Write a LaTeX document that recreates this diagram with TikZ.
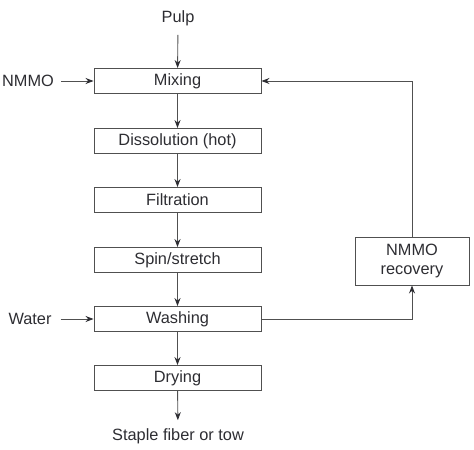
\documentclass[tikz,border=0pt]{standalone}
\usepackage{fontspec}
\setmainfont{Liberation Sans}
\usepackage{tikz}
\usetikzlibrary{arrows.meta}
\definecolor{FlowLineColor}{RGB}{80,80,80}
\definecolor{FlowTipColor}{RGB}{45,45,50}
\definecolor{FlowTextColor}{RGB}{45,45,50}

\begin{document}
\begin{tikzpicture}[x=1bp,y=-1bp,font=\fontsize{16.4}{19}\selectfont,text=FlowTextColor,
    stepbox/.style={draw=FlowLineColor,line width=0.9bp,minimum width=167bp,minimum height=25bp,inner sep=0pt},
    arr/.style={draw=FlowLineColor,line width=0.9bp,-{Stealth[length=8bp,width=6bp,color=FlowTipColor]}},
    lbl/.style={inner sep=0pt}]
    \useasboundingbox (0,0) rectangle (474,450);
    % main column of process steps
    \foreach \n/\y/\t in %
    {mix/81/Mixing,diss/141/Dissolution (hot),filt/200/Filtration,spin/260/{Spin/stretch},wash/319/Washing,dry/378/Drying} {
       \node[stepbox] (\n) at (177.5,\y) {\t};
    }
    \node[stepbox,minimum width=114bp,minimum height=48bp,align=center] (rec) at (412,261) {NMMO\\recovery};
    % inputs and output
    \node[lbl] (pulp) at (178,18) {Pulp};
    \node[lbl] (nmmo) at (28,81) {NMMO};
    \node[lbl] (water) at (30,319) {Water};
    \node[lbl] (fiber) at (178,436) {Staple fiber or tow};
    \draw[arr,shorten <=9bp] (pulp) -- (mix);
    \draw[arr,shorten <=7bp] (nmmo) -- (mix);
    \draw[arr,shorten <=9bp] (water) -- (wash);
    \foreach \a/\b in {mix/diss,diss/filt,filt/spin,spin/wash,wash/dry} {
       \draw[arr] (\a) -- (\b);
    }
    \draw[arr,shorten >=8bp] (dry) -- (fiber);
    % recycle loop
    \draw[arr] (wash.east) -| (rec.south);
    \draw[arr] (rec.north) |- (mix.east);
\end{tikzpicture}
\end{document}
